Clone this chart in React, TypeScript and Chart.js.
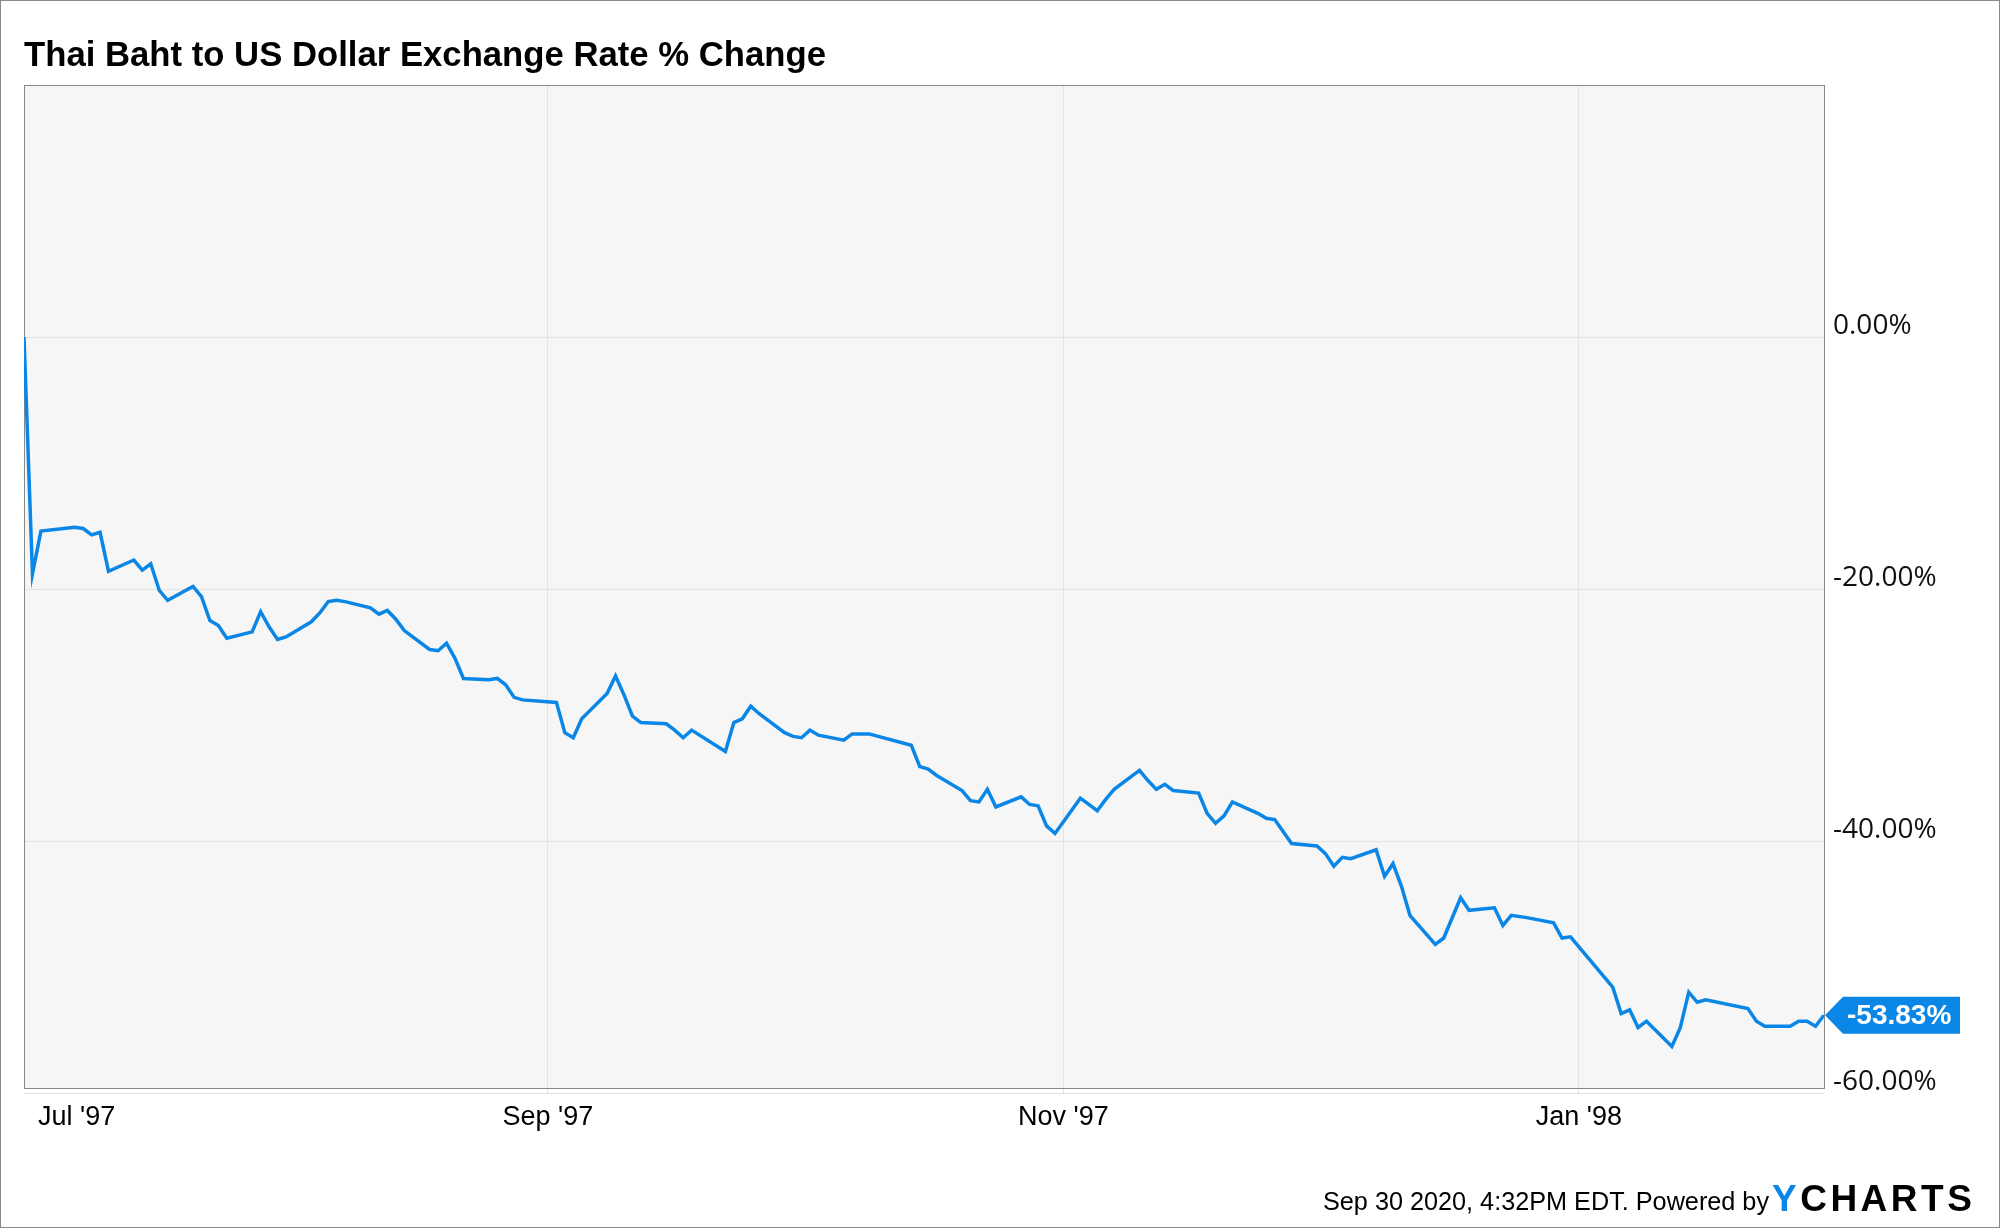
import React, { useEffect, useRef } from "react";
import { Chart, registerables } from "chart.js";

Chart.register(...registerables);

const TITLE = "Thai Baht to US Dollar Exchange Rate % Change";
const FOOTER = "Sep 30 2020, 4:32PM EDT. Powered by";
const LOGO_Y = "Y";
const LOGO_REST = "CHARTS";

const START_DATE = "1997-07-01";
const END_DATE = "1998-01-30";

const dates = [
  "1997-07-01", "1997-07-02", "1997-07-03", "1997-07-07", "1997-07-08", "1997-07-09", "1997-07-10", "1997-07-11",
  "1997-07-14", "1997-07-15", "1997-07-16", "1997-07-17", "1997-07-18",
  "1997-07-21", "1997-07-22", "1997-07-23", "1997-07-24", "1997-07-25",
  "1997-07-28", "1997-07-29", "1997-07-30", "1997-07-31", "1997-08-01",
  "1997-08-04", "1997-08-05", "1997-08-06", "1997-08-07", "1997-08-08",
  "1997-08-11", "1997-08-12", "1997-08-13", "1997-08-14", "1997-08-15",
  "1997-08-18", "1997-08-19", "1997-08-20", "1997-08-21", "1997-08-22",
  "1997-08-25", "1997-08-26", "1997-08-27", "1997-08-28", "1997-08-29",
  "1997-09-02", "1997-09-03", "1997-09-04", "1997-09-05",
  "1997-09-08", "1997-09-09", "1997-09-10", "1997-09-11", "1997-09-12",
  "1997-09-15", "1997-09-16", "1997-09-17", "1997-09-18",
  "1997-09-22", "1997-09-23", "1997-09-24", "1997-09-25", "1997-09-26",
  "1997-09-29", "1997-09-30", "1997-10-01", "1997-10-02", "1997-10-03",
  "1997-10-06", "1997-10-07", "1997-10-08", "1997-10-09",
  "1997-10-14", "1997-10-15", "1997-10-16", "1997-10-17",
  "1997-10-20", "1997-10-21", "1997-10-22", "1997-10-23", "1997-10-24",
  "1997-10-27", "1997-10-28", "1997-10-29", "1997-10-30", "1997-10-31",
  "1997-11-03", "1997-11-04", "1997-11-05", "1997-11-06", "1997-11-07",
  "1997-11-10", "1997-11-11", "1997-11-12", "1997-11-13", "1997-11-14",
  "1997-11-17", "1997-11-18", "1997-11-19", "1997-11-20", "1997-11-21",
  "1997-11-24", "1997-11-25", "1997-11-26", "1997-11-28",
  "1997-12-01", "1997-12-02", "1997-12-03", "1997-12-04", "1997-12-05",
  "1997-12-08", "1997-12-09", "1997-12-10", "1997-12-11", "1997-12-12",
  "1997-12-15", "1997-12-16", "1997-12-18", "1997-12-19",
  "1997-12-22", "1997-12-23", "1997-12-24", "1997-12-26",
  "1997-12-29", "1997-12-30", "1997-12-31",
  "1998-01-05", "1998-01-06", "1998-01-07", "1998-01-08", "1998-01-09",
  "1998-01-12", "1998-01-13", "1998-01-14", "1998-01-15", "1998-01-16",
  "1998-01-21", "1998-01-22", "1998-01-23",
  "1998-01-26", "1998-01-27", "1998-01-28", "1998-01-29", "1998-01-30",
];

const values = [
  0, -18.8, -15.4, -15.1, -15.2, -15.7, -15.5, -18.6,
  -17.7, -18.5, -18.0, -20.1, -20.9,
  -19.8, -20.6, -22.5, -22.9, -23.9,
  -23.4, -21.8, -23.0, -24.0, -23.8,
  -22.6, -21.9, -21.0, -20.9, -21.0,
  -21.5, -22.0, -21.7, -22.4, -23.3,
  -24.8, -24.9, -24.3, -25.5, -27.1,
  -27.2, -27.1, -27.6, -28.6, -28.8,
  -29.0, -31.4, -31.8, -30.3,
  -28.3, -26.9, -28.4, -30.1, -30.6,
  -30.7, -31.2, -31.8, -31.2,
  -32.9, -30.6, -30.3, -29.3, -29.9,
  -31.4, -31.7, -31.8, -31.2, -31.6,
  -32.0, -31.5, -31.5, -31.5,
  -32.4, -34.1, -34.3, -34.8,
  -36.0, -36.8, -36.9, -35.9, -37.3,
  -36.5, -37.1, -37.2, -38.8, -39.4,
  -36.6, -37.1, -37.6, -36.7, -35.9,
  -34.4, -35.2, -35.9, -35.5, -36.0,
  -36.2, -37.8, -38.6, -38.0, -36.9,
  -37.8, -38.2, -38.3, -40.2,
  -40.4, -41.0, -42.0, -41.3, -41.4,
  -40.7, -42.8, -41.8, -43.6, -45.9,
  -48.2, -47.7, -44.5, -45.5,
  -45.3, -46.7, -45.9, -46.1,
  -46.5, -47.7, -47.6,
  -51.6, -53.7, -53.4, -54.8, -54.3,
  -56.3, -54.8, -52.0, -52.8, -52.6,
  -53.3, -54.3, -54.7,
  -54.7, -54.3, -54.3, -54.7, -53.83,
];

const xTickDates = ["1997-07-01", "1997-09-01", "1997-11-01", "1998-01-01"];
const xTickLabels = ["Jul '97", "Sep '97", "Nov '97", "Jan '98"];
const yTickValues = [0, -20, -40, -60];
const Y_MIN = -60;
const Y_MAX = 20;

const LINE_COLOR = "#0a86e6";

function dayOf(s: string): number {
  const [y, m, d] = s.split("-").map(Number);
  const [y0, m0, d0] = START_DATE.split("-").map(Number);
  return (Date.UTC(y, m - 1, d) - Date.UTC(y0, m0 - 1, d0)) / 86400000;
}

const decor = {
  id: "decor",
  beforeDraw(chart: any) {
    const { ctx, chartArea: a, width, height } = chart;
    ctx.save();
    ctx.fillStyle = "#ffffff";
    ctx.fillRect(0, 0, width, height);
    ctx.fillStyle = "#f6f6f6";
    ctx.fillRect(a.left, a.top, a.right - a.left, a.bottom - 5 - a.top);
    ctx.restore();
  },
  beforeDatasetsDraw(chart: any) {
    const { ctx, chartArea: a } = chart;
    ctx.save();
    ctx.strokeStyle = "#888888";
    ctx.lineWidth = 1;
    ctx.strokeRect(a.left + 0.5, a.top + 0.5, a.right - a.left, a.bottom - 5 - a.top);
    ctx.restore();
  },
  afterDraw(chart: any) {
    const { ctx, chartArea: a, width, height } = chart;
    const xs = chart.scales.x;
    ctx.save();
    // title
    ctx.fillStyle = "#000000";
    ctx.textBaseline = "alphabetic";
    ctx.textAlign = "left";
    ctx.font = "bold 35px 'Liberation Sans', Arial, sans-serif";
    ctx.fillText(TITLE, 24, 66, 802);

    // x labels
    ctx.font = "27px 'Liberation Sans', Arial, sans-serif";
    xTickDates.forEach((d, i) => {
      const px = xs.getPixelForValue(dayOf(d));
      const w = ctx.measureText(xTickLabels[i]).width;
      let left = px - w / 2;
      if (left < a.left + 14) left = a.left + 14;
      ctx.fillText(xTickLabels[i], left, 1125);
    });

    // footer
    ctx.font = "26px 'Liberation Sans', Arial, sans-serif";
    ctx.fillStyle = "#000000";
    ctx.fillText(FOOTER, 1323, 1210, 446);
    ctx.font = "900 37px 'Liberation Sans', Arial, sans-serif";
    let lx = 1772;
    const logo = LOGO_Y + LOGO_REST;
    for (let i = 0; i < logo.length; i++) {
      ctx.fillStyle = i === 0 ? LINE_COLOR : "#000000";
      ctx.fillText(logo[i], lx, 1211);
      lx += ctx.measureText(logo[i]).width + 3.5;
    }

    // last value tag
    const meta = chart.getDatasetMeta(0);
    const last = meta.data[meta.data.length - 1];
    const ty = last.y;
    const tx = a.right + 1;
    ctx.fillStyle = LINE_COLOR;
    ctx.beginPath();
    ctx.moveTo(tx, ty);
    ctx.lineTo(tx + 18, ty - 18.5);
    ctx.lineTo(1960, ty - 18.5);
    ctx.lineTo(1960, ty + 18.5);
    ctx.lineTo(tx + 18, ty + 18.5);
    ctx.closePath();
    ctx.fill();
    ctx.fillStyle = "#ffffff";
    ctx.font = "bold 28px 'Liberation Sans', Arial, sans-serif";
    ctx.textBaseline = "middle";
    ctx.fillText(values[values.length - 1].toFixed(2) + "%", 1847, ty + 1);

    // outer border
    ctx.strokeStyle = "#888888";
    ctx.lineWidth = 1;
    ctx.strokeRect(0.5, 0.5, width - 1, height - 1);
    ctx.restore();
  },
};

export default function App() {
  const ref = useRef<HTMLCanvasElement | null>(null);

  useEffect(() => {
    if (!ref.current) return;
    const points = dates.map((d, i) => ({ x: dayOf(d), y: values[i] }));
    const chart = new Chart(ref.current, {
      type: "line",
      data: {
        datasets: [
          {
            data: points,
            borderColor: LINE_COLOR,
            borderWidth: 3.5,
            pointRadius: 0,
            tension: 0,
            fill: false,
            borderJoinStyle: "miter",
          },
        ],
      },
      options: {
        animation: false,
        responsive: false,
        devicePixelRatio: 1,
        layout: { padding: { left: 24, top: 85, right: 0, bottom: 0 } },
        plugins: { legend: { display: false }, tooltip: { enabled: false }, title: { display: false } },
        scales: {
          x: {
            type: "linear",
            min: dayOf(START_DATE),
            max: dayOf(END_DATE),
            afterBuildTicks: (s: any) => {
              s.ticks = xTickDates.slice(1).map((d) => ({ value: dayOf(d) }));
            },
            afterFit: (s: any) => {
              s.height = 135;
            },
            grid: { color: "#e3e3e3", lineWidth: 1, drawTicks: false },
            border: { display: false },
            ticks: { display: false },
          },
          y: {
            type: "linear",
            position: "right",
            min: Y_MIN,
            max: Y_MAX,
            afterBuildTicks: (s: any) => {
              s.ticks = yTickValues.map((v) => ({ value: v }));
            },
            afterFit: (s: any) => {
              s.width = 176;
            },
            grid: { color: "#e3e3e3", lineWidth: 1, drawTicks: false },
            border: { display: false },
            ticks: {
              padding: 9,
              labelOffset: -11,
              color: "#111111",
              font: { family: "'Open Sans', sans-serif", size: 28 },
              callback: (v: any) => Number(v).toFixed(2) + "%",
            },
          },
        },
      },
      plugins: [decor],
    });
    return () => chart.destroy();
  }, []);

  return (
    <div style={{ position: "absolute", left: 0, top: 0, width: 2000, height: 1228 }}>
      <canvas ref={ref} width={2000} height={1228} style={{ display: "block" }} />
    </div>
  );
}
